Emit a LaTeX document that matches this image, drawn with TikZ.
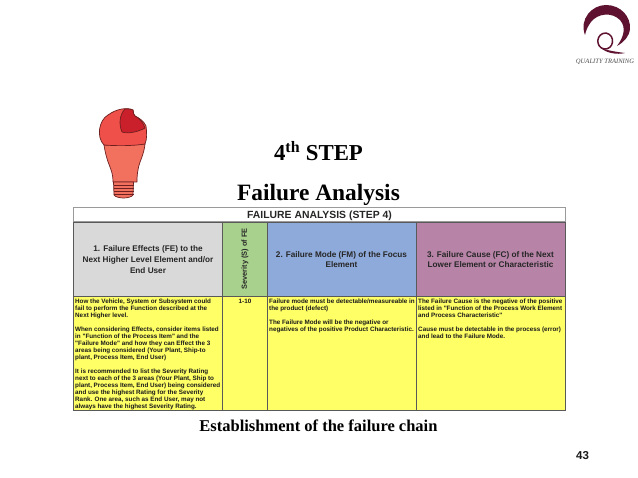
\documentclass[tikz,border=0pt]{standalone}
\usepackage{fontspec}
\setmainfont{Liberation Serif}
\newfontfamily\arialf{Liberation Sans}
\definecolor{hgray}{HTML}{D9D9D9}
\definecolor{hgreen}{HTML}{A9D18E}
\definecolor{hblue}{HTML}{8EAADB}
\definecolor{hpurple}{HTML}{B784A7}
\definecolor{byellow}{HTML}{FFFF66}
\definecolor{bordergray}{HTML}{9A9A9A}
\definecolor{wine}{HTML}{5E1230}
\definecolor{bulbA}{HTML}{F0504A}
\definecolor{bulbB}{HTML}{F2705E}
\definecolor{bulbC}{HTML}{C9202C}
\definecolor{bulbL}{HTML}{6E2020}
\tikzset{
  x=1pt,y=-1pt,
  cell/.style={draw=black!65,line width=.5pt},
  headtxt/.style={font=\arialf\bfseries\fontsize{8.2}{10.7}\selectfont,align=center,text=black!85,inner sep=0pt},
  bodytxt/.style={font=\arialf\bfseries\fontsize{6.3}{7}\selectfont,anchor=north west,align=left,inner sep=0pt,text=black!90},
  bulbline/.style={draw=bulbL,line width=.7pt,line join=round},
}
\begin{document}
\begin{tikzpicture}
\useasboundingbox (0,0) rectangle (638,478);
\fill[white] (0,0) rectangle (638,478);

% logo
\fill[wine] (585,35) .. controls (579,19) and (592,5) .. (606,5)
  .. controls (621,5) and (631,17) .. (630,29)
  .. controls (629,37) and (624,42) .. (617,46)
  .. controls (623,38) and (627,28) .. (620,20)
  .. controls (612,12) and (598,13) .. (591,22)
  .. controls (588,26) and (586,30) .. (585,35) -- cycle;
\draw[wine,line width=1.5pt] (606,33) .. controls (596,33) and (595,47) .. (604,49)
  .. controls (614,50) and (616,35) .. (606,33);
\fill[wine] (601,48) .. controls (609,51) and (618,52) .. (625,53)
  .. controls (617,55) and (606,53) .. (601,48) -- cycle;
\node[font=\itshape\fontsize{6.6}{7}\selectfont,text=black!70,inner sep=0pt] (logotext) at (605,62) {QUALITY TRAINING};

% bulb
\path[bulbline,fill=bulbB] (104,145) -- (145,144) .. controls (144,155) and (139,162) .. (138,170)
  .. controls (137,175) and (137,179) .. (137,182) -- (113,182)
  .. controls (113,176) and (112,172) .. (110,167)
  .. controls (107,160) and (105,152) .. (104,145) -- cycle;
\path[bulbline,fill=bulbB] (113.5,182) -- (133.5,182) -- (133,195)
  .. controls (130,199) and (117,199) .. (114,195) -- cycle;
\foreach \yy in {185,188,191,194}{\draw[bulbL,line width=.7pt] (113.5,\yy) -- (133.5,\yy);}
\path[bulbline,fill=bulbA] (104,145) .. controls (96,137) and (99,120) .. (108,115)
  .. controls (116,109) and (127,107) .. (133,110)
  .. controls (133,113) and (134,115) .. (135,116)
  .. controls (139,118) and (144,121) .. (146,126)
  .. controls (147,133) and (147,139) .. (145,144)
  .. controls (133,146) and (116,146) .. (104,145) -- cycle;
\path[bulbline,fill=bulbC] (125,109) .. controls (128,109) and (131,109) .. (133,110)
  .. controls (133,113) and (134,115) .. (135,116)
  .. controls (139,118) and (143,122) .. (145,128)
  .. controls (138,132) and (128,134) .. (122,132)
  .. controls (119,125) and (119,115) .. (125,109) -- cycle;

% slide text
\node[font=\bfseries\fontsize{22.8}{26}\selectfont,inner sep=0pt] (steptitle) at (318.5,151) {4\textsuperscript{th} STEP};
\node[font=\bfseries\fontsize{23.4}{26}\selectfont,inner sep=0pt] (subtitle) at (318.5,195) {Failure Analysis};

% table
\path[fill=white,draw=bordergray,line width=1pt] (73.5,208) rectangle (565,222);
\path[cell,fill=hgray] (73.5,222) rectangle (222,296);
\path[cell,fill=hgreen] (222,222) rectangle (267.5,296);
\path[cell,fill=hblue] (267.5,222) rectangle (416,296);
\path[cell,fill=hpurple] (416,222) rectangle (565,296);
\path[cell,fill=byellow] (73.5,296) rectangle (222,410);
\path[cell,fill=byellow] (222,296) rectangle (267.5,410);
\path[cell,fill=byellow] (267.5,296) rectangle (416,410);
\path[cell,fill=byellow] (416,296) rectangle (565,410);

\node[font=\arialf\bfseries\fontsize{10.4}{12}\selectfont,inner sep=0pt,text=black!85] (tabletitle) at (319.5,215.5) {FAILURE ANALYSIS (STEP 4)};
\node[headtxt] (h1) at (148,259.5) {1. Failure Effects (FE) to the\\Next Higher Level Element and/or\\End User};
\node[headtxt,rotate=90,font=\arialf\bfseries\fontsize{7.4}{9}\selectfont] (h2) at (245,259) {Severity (S) of FE};
\node[headtxt] (h3) at (341.5,259.5) {2. Failure Mode (FM) of the Focus\\Element};
\node[headtxt] (h4) at (490.5,259.5) {3. Failure Cause (FC) of the Next\\Lower Element or Characteristic};

\node[bodytxt] (b1) at (75,298.6) {How the Vehicle, System or Subsystem could\\
fail to perform the Function described at the\\
Next Higher level.\\[7pt]
When considering Effects, consider items listed\\
in "Function of the Process Item" and the\\
"Failure Mode" and how they can Effect the 3\\
areas being considered (Your Plant, Ship-to\\
plant, Process Item, End User)\\[7pt]
It is recommended to list the Severity Rating\\
next to each of the 3 areas (Your Plant, Ship to\\
plant, Process Item, End User) being considered\\
and use the highest Rating for the Severity\\
Rank. One area, such as End User, may not\\
always have the highest Severity Rating.};
\node[bodytxt,anchor=north] (b2) at (245,298.6) {1-10};
\node[bodytxt] (b3) at (269,298.6) {Failure mode must be detectable/measureable in\\
the product (defect)\\[7pt]
The Failure Mode will be the negative or\\
negatives of the positive Product Characteristic.};
\node[bodytxt] (b4) at (418,298.6) {The Failure Cause is the negative of the positive\\
listed in "Function of the Process Work Element\\
and Process Characteristic"\\[7pt]
Cause must be detectable in the process (error)\\
and lead to the Failure Mode.};

\node[font=\bfseries\fontsize{16.5}{18}\selectfont,inner sep=0pt] (caption) at (318.5,426) {Establishment of the failure chain};
\node[font=\arialf\bfseries\fontsize{11.5}{14}\selectfont,inner sep=0pt,text=black!90] (pagenum) at (582.5,456) {43};
\end{tikzpicture}
\end{document}
